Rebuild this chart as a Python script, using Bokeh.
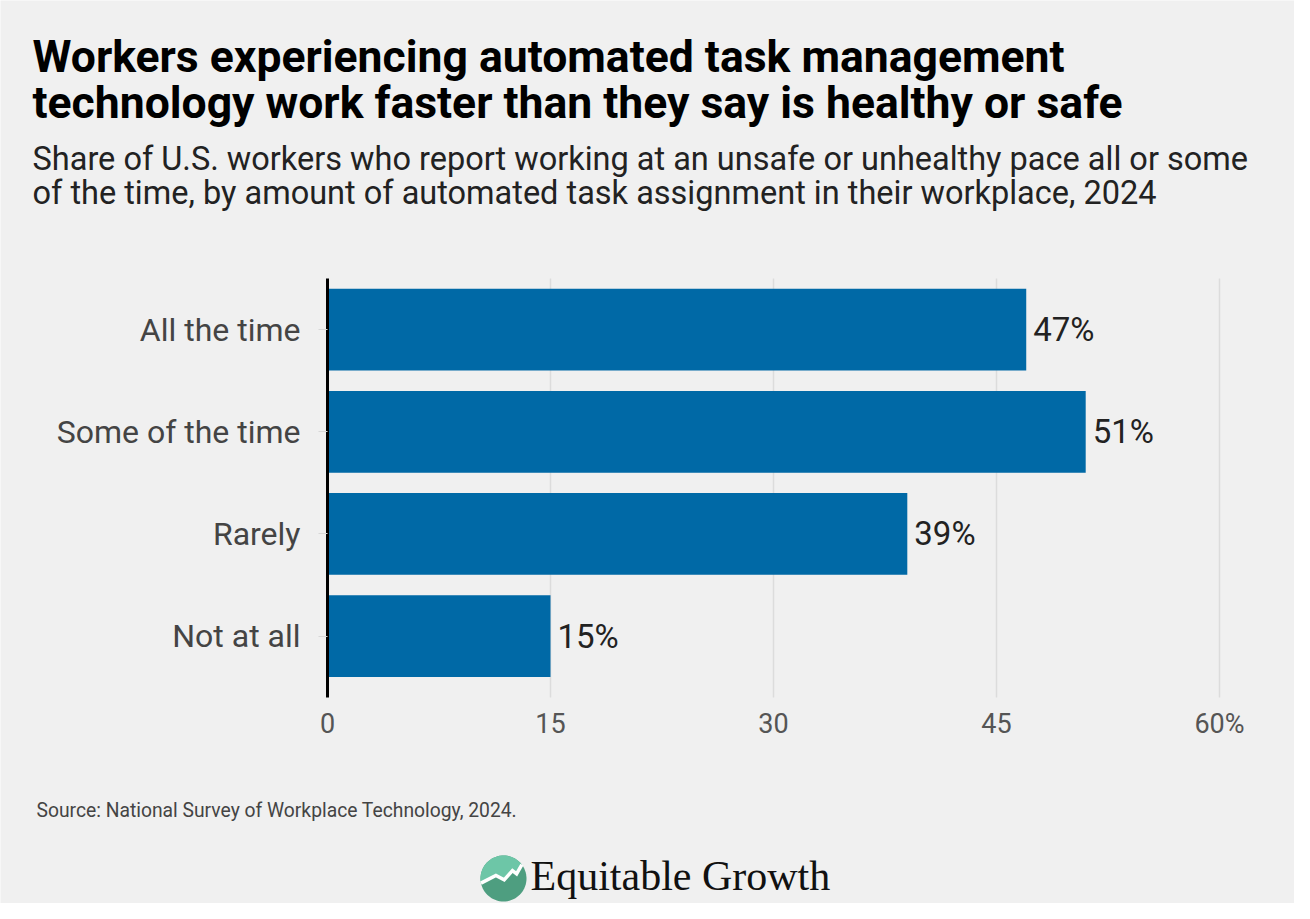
import numpy as np
from bokeh.plotting import figure
from bokeh.models import Range1d, FixedTicker, LinearAxis
from bokeh.core.properties import value
from bokeh.embed import file_html
from bokeh.resources import INLINE

# ---- data ----
categories = ["All the time", "Some of the time", "Rarely", "Not at all"]
shares = [47, 51, 39, 15]
x_ticks = [0, 15, 30, 45, 60]
x_tick_labels = ["0", "15", "30", "45", "60%"]

title_lines = ["Workers experiencing automated task management",
               "technology work faster than they say is healthy or safe"]
subtitle_lines = ["Share of U.S. workers who report working at an unsafe or unhealthy pace all or some",
                  "of the time, by amount of automated task assignment in their workplace, 2024"]
source_text = "Source: National Survey of Workplace Technology, 2024."
logo_text = "Equitable Growth"

BG = "#f0f0f0"
BAR = "#0069a6"
W, H = 1294, 903
FL, FR, FT, FB = 327, 1219, 278, 697   # chart area edges, page pixels
FONT = "Roboto"

n = len(categories)
ypos = list(range(n, 0, -1))
X0, X1 = 0, 60            # value axis extent
Y0, Y1 = 0.4, n + 0.5     # category axis extent

# whole canvas is the frame, in page-pixel coordinates (y downward)
p = figure(width=W, height=H, x_range=Range1d(0, W), y_range=Range1d(H, 0),
           x_axis_type=None, y_axis_type=None,
           output_backend="svg", toolbar_location=None, min_border=0)
p.background_fill_color = BG
p.border_fill_color = BG
p.outline_line_color = None
p.grid.visible = False

# chart scales mapped onto the chart area
sx = (X1 - X0) / (FR - FL)
sy = (Y1 - Y0) / (FB - FT)
p.extra_x_ranges = {"val": Range1d(X0 - FL * sx, X1 + (W - FR) * sx)}
p.extra_y_ranges = {"cat": Range1d(Y0 - (H - FB) * sy, Y1 + FT * sy)}
ck = dict(x_range_name="val", y_range_name="cat")

# gridlines
p.segment(x0=x_ticks[1:], x1=x_ticks[1:], y0=Y0, y1=Y1, line_color="#dcdcdc",
          line_width=1.5, **ck)

p.hbar(y=ypos, right=shares, left=0, height=0.8, color=BAR, line_color=None, **ck)
p.text(x=shares, y=ypos, text=[f"{s}%" for s in shares], x_offset=7,
       text_font=value(FONT), text_font_size="33px", text_color="#222222",
       text_baseline="middle", text_align="left", **ck)

xaxis = LinearAxis(fixed_location=Y0, bounds=(X0, X1), ticker=FixedTicker(ticks=x_ticks),
                   major_label_overrides={t: l for t, l in zip(x_ticks, x_tick_labels)},
                   axis_line_color=None, major_tick_line_color=None, minor_tick_line_color=None,
                   major_label_text_font=FONT, major_label_text_font_size="27px",
                   major_label_text_color="#555555", major_label_standoff=4, **ck)
p.add_layout(xaxis, "below")

yaxis = LinearAxis(fixed_location=X0, bounds=(Y0, Y1), ticker=FixedTicker(ticks=ypos),
                   major_label_overrides={y: c for y, c in zip(ypos, categories)},
                   axis_line_color="#000000", axis_line_width=3,
                   major_tick_line_color="#d8d8d8", major_tick_out=9, major_tick_in=0,
                   minor_tick_line_color=None,
                   major_label_text_font=FONT, major_label_text_font_size="32px",
                   major_label_text_color="#444444", major_label_standoff=18, **ck)
p.add_layout(yaxis, "left")

# ---- header ----
p.text(x=[32, 32], y=[56, 102], text=title_lines, text_font=value(FONT),
       text_font_style="bold", text_font_size="44.5px", text_color="#000000",
       text_baseline="middle")
p.text(x=[32, 32], y=[158, 192], text=subtitle_lines, text_font=value(FONT),
       text_font_size="32.5px", text_color="#222222", text_baseline="middle")

# ---- footer ----
p.text(x=[36], y=[810], text=[source_text], text_font=value(FONT),
       text_font_size="19.3px", text_color="#444444", text_baseline="middle")

cx, cy, r = 503, 878, 23
ang = np.linspace(0, 2 * np.pi, 73)
p.patch(x=cx + r * np.cos(ang), y=cy - r * np.sin(ang), fill_color="#4e9e80", line_color=None)
zu = np.array([-0.98, -0.33, 0.03, 0.39, 0.57, 0.80])
zv = np.array([-0.20, 0.13, -0.06, 0.34, 0.20, 0.60])
a0, a1 = np.arctan2(zv[-1], zu[-1]), np.arctan2(zv[0], zu[0]) % (2 * np.pi)
arc = np.linspace(a0, a1, 40)
p.patch(x=cx + r * np.concatenate([zu, np.cos(arc)]), y=cy - r * np.concatenate([zv, np.sin(arc)]),
        fill_color="#6dc6a7", line_color=None)
p.line(x=cx + r * zu, y=cy - r * zv, line_color="#ffffff", line_width=3.5, line_join="miter")

p.text(x=[530], y=[875], text=[logo_text], text_font=value("Liberation Serif"),
       text_font_size="42px", text_color="#111111", text_baseline="middle")

open("out.html", "w").write(file_html(p, INLINE))
